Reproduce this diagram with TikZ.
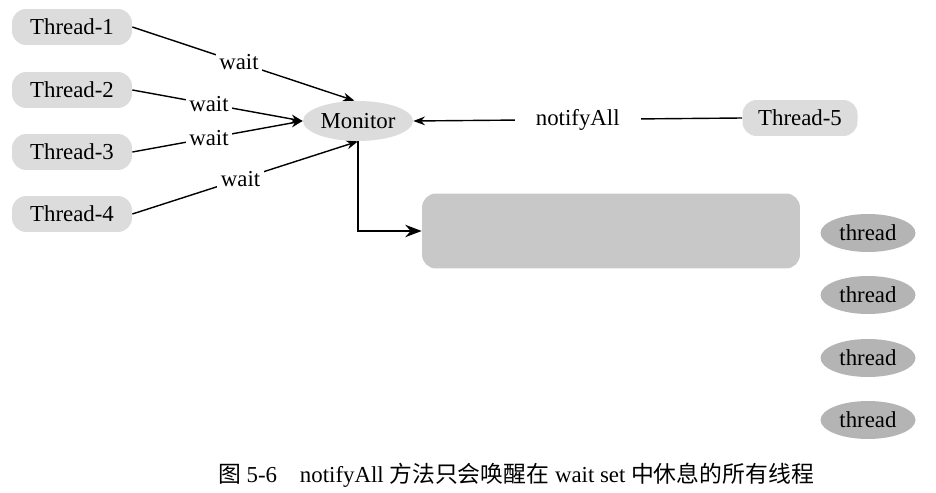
\documentclass[tikz,border=0pt]{standalone}
\usepackage{fontspec}
\setmainfont{Liberation Serif}
\newfontfamily\cjk{Noto Sans CJK SC}
\usetikzlibrary{positioning, arrows.meta, shapes.geometric}
\definecolor{boxgray}{HTML}{DCDCDC}
\definecolor{setgray}{HTML}{C8C8C8}
\definecolor{thrgray}{HTML}{B4B4B4}
\begin{document}
\begin{tikzpicture}[x=0.02cm, y=-0.02cm, >=Stealth, font=\fontsize{13}{15}\selectfont]

  % Styles
  \tikzstyle{thr}=[rounded corners=8pt, fill=boxgray, minimum width=2.4cm, minimum height=0.72cm, inner sep=0pt]
  \tikzstyle{mon}=[ellipse, fill=boxgray, minimum width=2.2cm, minimum height=0.8cm, inner sep=0pt]
  \tikzstyle{sleeper}=[ellipse, fill=thrgray, minimum width=1.9cm, minimum height=0.76cm, inner sep=0pt]
  \tikzstyle{lbl}=[fill=white, inner sep=2pt]

  \useasboundingbox (0,0) rectangle (936,493);

  % --- Threads waiting ---
  \node[thr] (t1) at (72,27) {Thread-1};
  \node[thr] (t2) at (72,90) {Thread-2};
  \node[thr] (t3) at (72,152) {Thread-3};
  \node[thr] (t4) at (72,214) {Thread-4};

  \node[mon] (mon) at (358,121) {Monitor};
  \node[thr, minimum width=2.3cm] (t5) at (800,118) {Thread-5};

  % wait set
  \node[rounded corners=8pt, fill=setgray, minimum width=7.56cm, minimum height=1.5cm] (wset) at (611,231) {};

  \foreach \i/\y in {1/233, 2/295, 3/358, 4/420} {
    \node[sleeper] (s\i) at (868,\y) {thread};
  }

  % --- Connectors ---
  \draw[->, thick] (t1.east) -- node[lbl, pos=0.48] {wait} (mon.100);
  \draw[->, thick] (t2.east) -- node[lbl, pos=0.45] {wait} (mon.west);
  \draw[->, thick] (t3.east) -- node[lbl, pos=0.45] {wait} (mon.west);
  \draw[->, thick] (t4.east) -- node[lbl, pos=0.48] {wait} (mon.south);
  \draw[->, thick] (t5.west) -- node[lbl, inner xsep=12pt] {notifyAll} (mon.east);
  \draw[->, line width=1.4pt] (mon.south) |- (wset.west);

  % caption
  \node (cap) at (516,475) {{\cjk 图} 5-6\quad notifyAll {\cjk 方法只会唤醒在} wait set {\cjk 中休息的所有线程}};

\end{tikzpicture}
\end{document}
